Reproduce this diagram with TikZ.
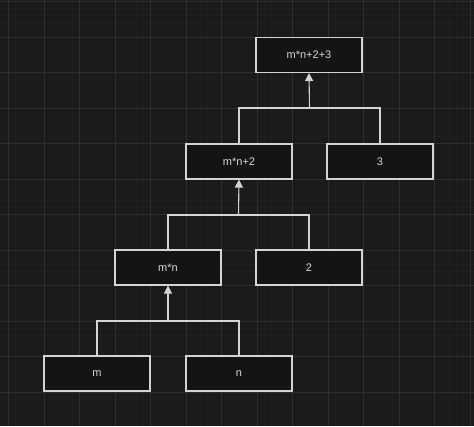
\documentclass[tikz,border=0pt]{standalone}
\usepackage{fontspec}
\setmainfont{Liberation Sans}
\usetikzlibrary{arrows.meta}
\definecolor{bg}{HTML}{1A1A1A}
\definecolor{gmaj}{HTML}{2F2F2F}
\definecolor{gmin}{HTML}{1F1F1F}
\definecolor{boxfill}{HTML}{141414}
\definecolor{edge}{HTML}{D4D4D4}
\definecolor{txt}{HTML}{D6D6D6}
\begin{document}
\begin{tikzpicture}[x=1pt,y=-1pt,
  box/.style={draw=edge,fill=boxfill,line width=1.1pt,minimum width=106pt,minimum height=35pt,inner sep=0pt,text=txt,font=\fontsize{11}{13}\selectfont},
  link/.style={draw=edge,line width=1.1pt},
  arr/.style={link,-{Triangle[width=8pt,length=8pt]}}]
\fill[bg] (0,0) rectangle (474,426);
\useasboundingbox (0,0) rectangle (474,426);
% minor grid
\foreach \i in {0,...,67} {
  \pgfmathsetmacro\xx{1.4+7.1*\i}
  \draw[gmin,line width=0.5pt] (\xx,0) -- (\xx,426);
}
\foreach \i in {0,...,60} {
  \pgfmathsetmacro\yy{1.5+7.1*\i}
  \draw[gmin,line width=0.5pt] (0,\yy) -- (474,\yy);
}
% major grid
\foreach \i in {0,...,13} {
  \pgfmathsetmacro\xx{8.5+35.5*\i}
  \draw[gmaj,line width=0.8pt] (\xx,0) -- (\xx,426);
}
\foreach \i in {0,...,12} {
  \pgfmathsetmacro\yy{1.5+35.5*\i}
  \draw[gmaj,line width=0.8pt] (0,\yy) -- (474,\yy);
}
% nodes
\node[box] (top) at (309,55) {m*n+2+3};
\node[box] (mn2) at (239,161.5) {m*n+2};
\node[box] (three) at (380,161.5) {3};
\node[box] (mn) at (168,267.5) {m*n};
\node[box] (two) at (309,267.5) {2};
\node[box] (m) at (97,373.5) {m};
\node[box] (n) at (239,373.5) {n};
% joins
\coordinate (j3) at (168,321);
\coordinate (j2) at (238.5,215);
\coordinate (j1) at (309.5,108);
\draw[link] (m.north) |- (j3) -| (n.north);
\draw[arr] (j3) -- (mn.south);
\draw[link] (mn.north) |- (j2) -| (two.north);
\draw[arr] (j2) -- (mn2.south);
\draw[link] (mn2.north) |- (j1) -| (three.north);
\draw[arr] (j1) -- (top.south);
\end{tikzpicture}
\end{document}
